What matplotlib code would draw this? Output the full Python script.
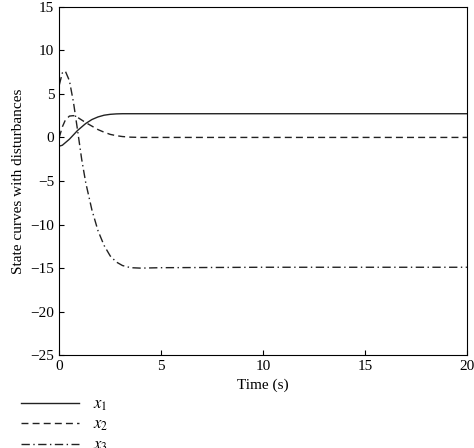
import matplotlib.pyplot as plt
import numpy as np

plt.rcParams['font.family'] = ['Liberation Serif', 'DejaVu Serif']
plt.rcParams['mathtext.fontset'] = 'stix'

t = [0, 0.15, 0.3, 0.5, 0.7, 0.9, 1.1, 1.3, 1.6, 1.9, 2.2, 2.5, 2.8, 3.1, 3.5, 4.0, 5, 10, 15, 20]
x1 = [-1.0, -0.9, -0.6, -0.2, 0.3, 0.8, 1.2, 1.6, 2.05, 2.35, 2.55, 2.65, 2.7, 2.72, 2.72, 2.72, 2.72, 2.72, 2.72, 2.72]
x2 = [0.0, 1.2, 2.0, 2.45, 2.5, 2.3, 2.0, 1.7, 1.3, 0.9, 0.6, 0.35, 0.2, 0.1, 0.03, 0.0, 0.0, 0.0, 0.0, 0.0]
x3 = [6.0, 7.4, 7.6, 6.5, 4.0, 0.8, -2.5, -5.2, -8.3, -10.7, -12.4, -13.6, -14.3, -14.7, -14.95, -15.0, -14.95, -14.9, -14.9, -14.9]

fig = plt.figure(figsize=(4.74, 4.48), dpi=100)
ax = fig.add_axes([0.125, 0.207, 0.86, 0.778])
l1, = ax.plot(t, x1, color='#222222', lw=1.0, ls='-')
l2, = ax.plot(t, x2, color='#222222', lw=1.0, ls=(0, (5, 3)))
l3, = ax.plot(t, x3, color='#222222', lw=1.0, ls=(0, (6, 2.5, 1, 2.5)))
ax.set_xlim(0, 20)
ax.set_ylim(-25, 15)
ax.set_xticks([0, 5, 10, 15, 20])
ax.set_yticks(range(-25, 16, 5))
ax.tick_params(direction='in', labelsize=11)
ax.set_xlabel('Time (s)', fontsize=11)
ax.set_ylabel('State curves with disturbances', fontsize=11)
fig.legend([l1, l2, l3], ['$x_1$', '$x_2$', '$x_3$'], loc='upper left',
           bbox_to_anchor=(0.03, 0.13), frameon=False, fontsize=12,
           handlelength=3.5, labelspacing=0.25, borderaxespad=0)
fig.savefig('out.png', dpi=100)
